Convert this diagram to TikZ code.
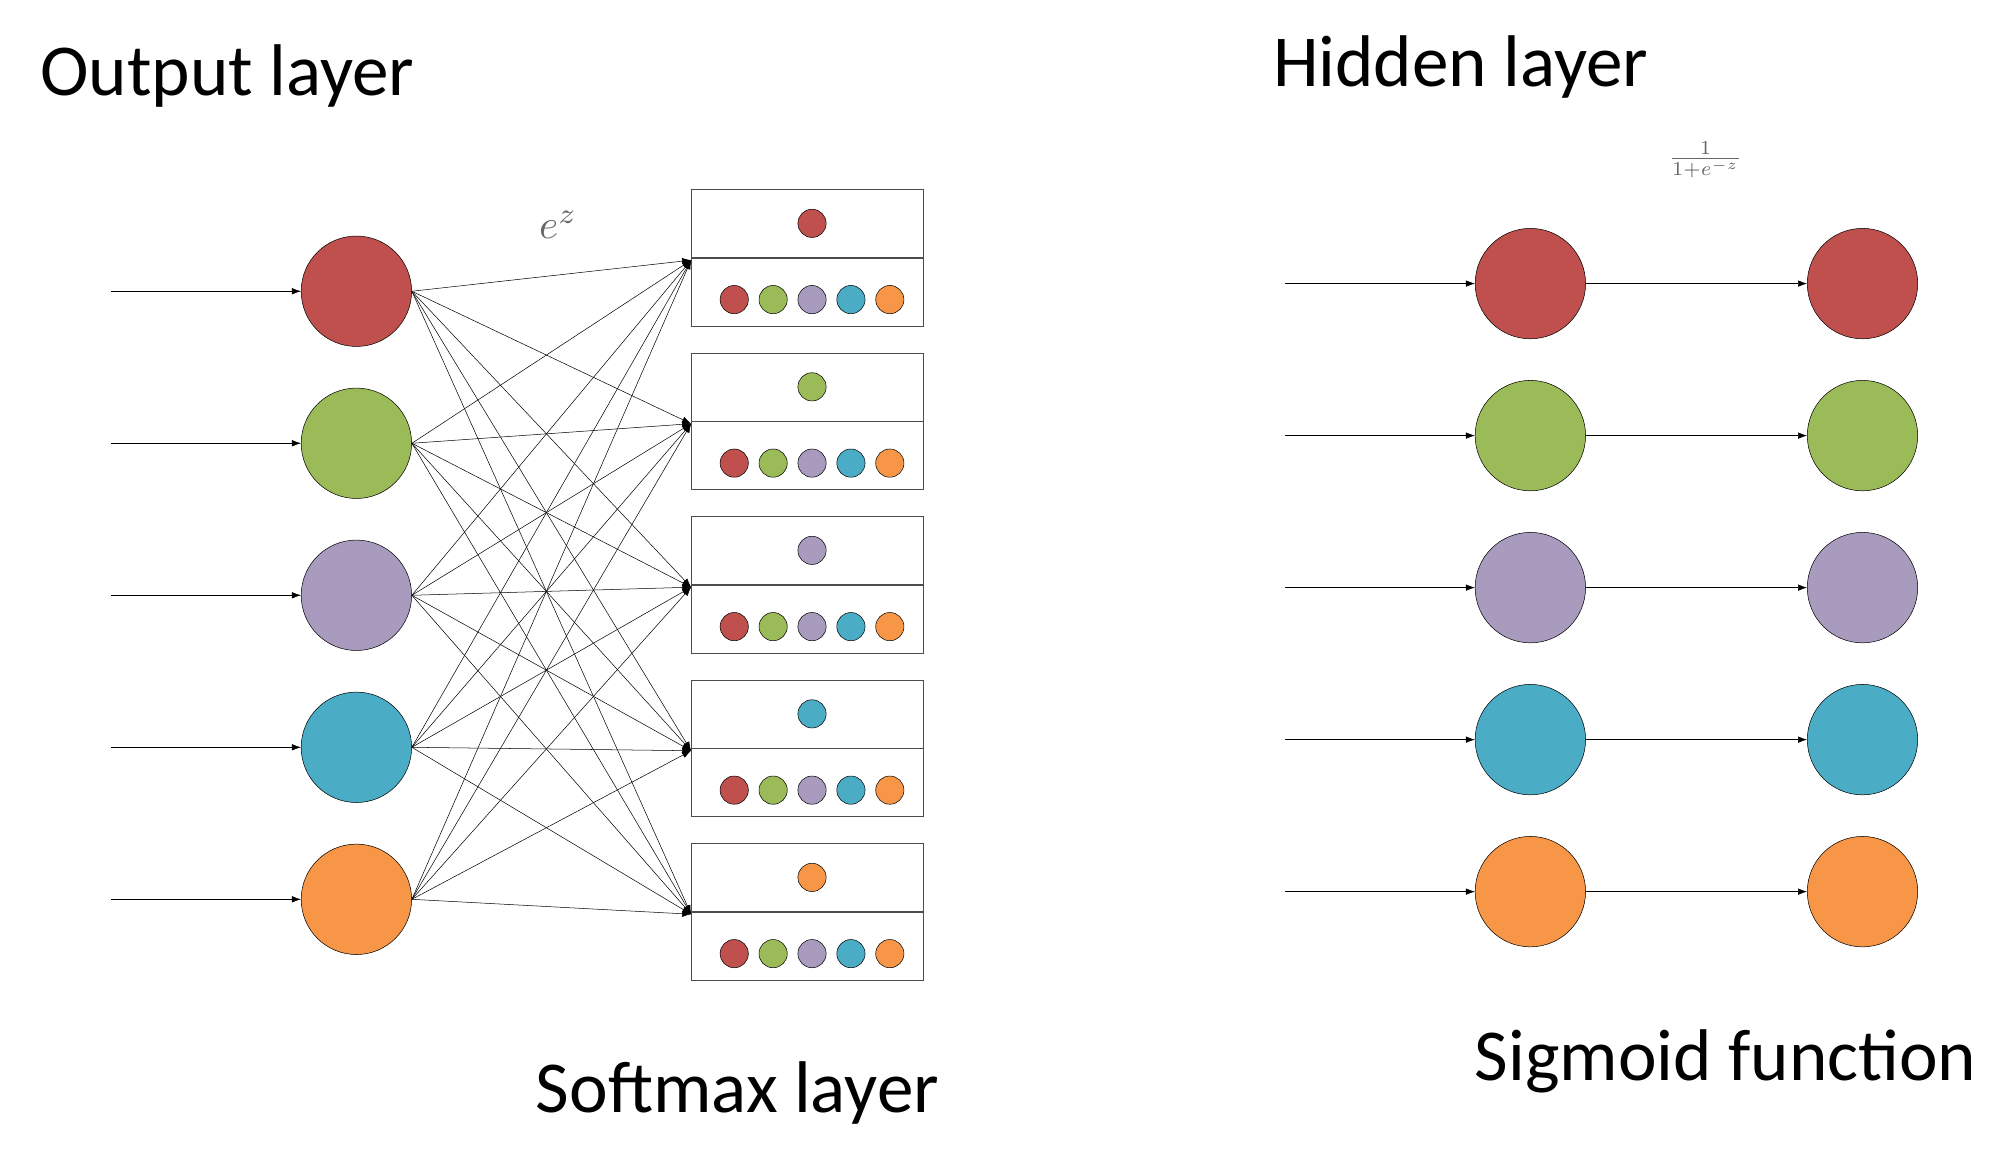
\documentclass[tikz,border=0pt]{standalone}
\usepackage{fontspec}
\setmainfont{Carlito}
\usetikzlibrary{arrows.meta}
\definecolor{cred}{HTML}{C0504D}
\definecolor{cgreen}{HTML}{9BBB59}
\definecolor{cpurple}{HTML}{A99BBD}
\definecolor{cblue}{HTML}{4BACC6}
\definecolor{corange}{HTML}{F79646}
\begin{document}
\begin{tikzpicture}[x=0.995pt,y=-0.995pt,
  big/.style={circle,draw,minimum size=86pt,inner sep=0pt},
  small/.style={circle,draw,thin,minimum size=22pt,inner sep=0pt},
  box/.style={draw=black!70,minimum width=181pt,minimum height=53pt,inner sep=0pt},
  arr/.style={-{Latex[length=7pt,width=5pt]},thin},
  lbl/.style={font=\fontsize{57}{68}\selectfont,anchor=base west}]
\useasboundingbox (0,0) rectangle (1568,917);
\node[lbl] (t1) at (28,75) {Output layer};
\node[lbl] (t2) at (416,871) {Softmax layer};
\node[lbl] (t3) at (993,68) {Hidden layer};
\node[lbl] (t4) at (1151,846) {Sigmoid function};
\node[text=black!60,scale=3.2] (ez) at (437,176) {$e^z$};
\node[text=black!60,scale=2.2] (sig) at (1335,125) {$\frac{1}{1+e^{-z}}$};
\foreach \c [count=\i] in {cred,cgreen,cpurple,cblue,corange} {
  \pgfmathsetmacro\yy{228+119*(\i-1)}
  \pgfmathsetmacro\yb{148+128*(\i-1)}
  \node[big,fill=\c] (o\i) at (279,\yy) {};
  \coordinate (in\i) at (87,\yy);
  \draw[arr] (in\i) -- (o\i);
  % softmax box
  \node[box,anchor=north west] (bt\i) at (541,\yb) {};
  \node[box,anchor=north] (bb\i) at (bt\i.south) {};
  \coordinate (e\i) at ([yshift=-2pt]bt\i.south west);
  \node[small,fill=\c] (s\i) at ([xshift=3.5pt]bt\i.center) {};
  \foreach \d [count=\j] in {cred,cgreen,cpurple,cblue,corange}
    \node[small,fill=\d] (s\i\j) at ([xshift={30.3*(\j-3)+3.5},yshift=-6pt]bb\i.center) {};
  % hidden layer
  \pgfmathsetmacro\yh{222+119*(\i-1)}
  \node[big,fill=\c] (h\i) at (1198,\yh) {};
  \node[big,fill=\c] (g\i) at (1458,\yh) {};
  \coordinate (hin\i) at (1006,\yh);
  \draw[arr] (hin\i) -- (h\i);
  \draw[arr] (h\i) -- (g\i);
}
\foreach \i in {1,...,5}
  \foreach \j in {1,...,5}
    \draw[arr,thin] (o\i.east) -- (e\j);
\end{tikzpicture}
\end{document}
